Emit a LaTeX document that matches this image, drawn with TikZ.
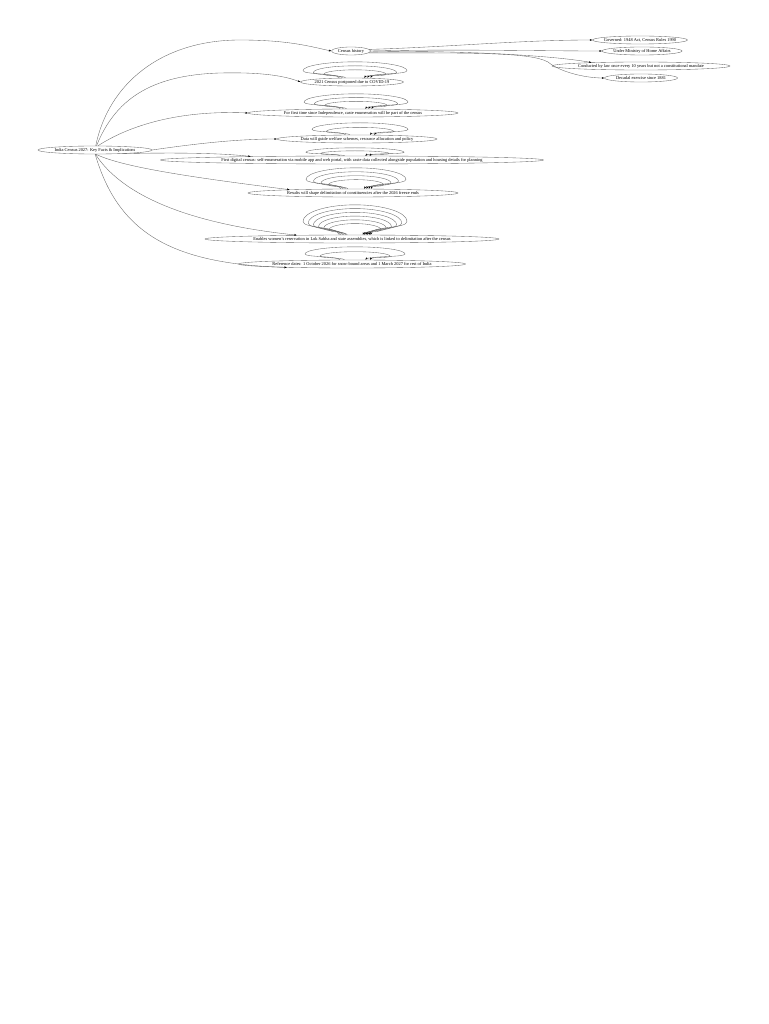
\documentclass[tikz,border=0pt]{standalone}
\usepackage{fontspec}
\setmainfont{Liberation Serif}
\usetikzlibrary{shapes.geometric,arrows.meta,calc}
\newcommand\drawloops[4]{%
 \foreach \k in {1,...,#2}{%
  \pgfmathsetmacro\lw{#3*(0.4+0.6*\k/#2)}%
  \pgfmathsetmacro\lh{#4*(0.25+0.75*\k/#2)}%
  \draw[edge] ($(#1.north)+(3-0.3*\lw,0)$)
    .. controls +(-0.05*\lw,-0.3*\lh) and +(0,0.25*\lh) .. ($(#1.north)+(3-\lw,-0.45*\lh)$)
    .. controls +(0,-0.3*\lh) and +(-0.55*\lw,0) .. ($(#1.north)+(3,-\lh)$)
    .. controls +(0.55*\lw,0) and +(0,-0.3*\lh) .. ($(#1.north)+(3+\lw,-0.45*\lh)$)
    .. controls +(0,0.25*\lh) and +(0.05*\lw,-0.3*\lh) .. ($(#1.north)+(3+0.3*\lw,0)$);
 }}
\begin{document}
\begin{tikzpicture}[x=1pt,y=-1pt,
  ell/.style={draw=black!60, line width=0.35pt, ellipse, inner sep=0pt, minimum height=8pt,
              font=\fontsize{4.4}{5}\selectfont},
  edge/.style={draw=black!60, line width=0.35pt, -{Stealth[length=2.6pt,width=1.9pt,black]}}]
\useasboundingbox[fill=white] (0,0) rectangle (768,1024);

\node[ell,minimum width=114pt] (root) at (95,150) {\makebox[0pt]{India Census 2027: Key Facts \& Implications}};
\node[ell,minimum width=39pt] (hist) at (351,51) {\makebox[0pt]{Census history}};
\node[ell,minimum width=95pt] (a) at (640,40) {\makebox[0pt]{Governed: 1948 Act, Census Rules 1990}};
\node[ell,minimum width=80pt] (b) at (642,51) {\makebox[0pt]{Under Ministry of Home Affairs}};
\node[ell,minimum width=178pt] (c) at (641,66) {\makebox[0pt]{Conducted by law once every 10 years but not a constitutional mandate}};
\node[ell,minimum width=73pt] (d) at (641,78) {\makebox[0pt]{Decadal exercise since 1881}};

\node[ell,minimum width=103pt] (n1) at (352,82) {\makebox[0pt]{2021 Census postponed due to COVID-19}};
\node[ell,minimum width=210pt] (n2) at (353,113) {\makebox[0pt]{For first time since Independence, caste enumeration will be part of the census}};
\node[ell,minimum width=160pt] (n3) at (357,139) {\makebox[0pt]{Data will guide welfare schemes, resource allocation and policy}};
\node[ell,minimum width=383pt] (n4) at (352,160) {\makebox[0pt]{First digital census: self-enumeration via mobile app and web portal, with caste data collected alongside population and housing details for planning}};
\node[ell,minimum width=210pt] (n5) at (353,193) {\makebox[0pt]{Results will shape delimitation of constituencies after the 2026 freeze ends}};
\node[ell,minimum width=294pt] (n6) at (352,239) {\makebox[0pt]{Enables women's reservation in Lok Sabha and state assemblies, which is linked to delimitation after the census}};
\node[ell,minimum width=227pt] (n7) at (352,264) {\makebox[0pt]{Reference dates: 1 October 2026 for snow-bound areas and 1 March 2027 for rest of India}};

% root edges
\draw[edge] (root.80) .. controls (108,85) and (160,40) .. (240,40) .. controls (290,40) and (312,47) .. (hist.west);
\draw[edge] (root.70) .. controls (115,100) and (150,75) .. (220,73) .. controls (262,72) and (285,76) .. (n1.west);
\draw[edge] (root.55) .. controls (130,125) and (180,110) .. (n2.west);
\draw[edge] (root.east) .. controls (200,143) and (240,139) .. (n3.west);
\draw[edge] (root.-8) .. controls (190,152) and (230,154) .. (n4.178);
\draw[edge] (root.-80) .. controls (120,166) and (180,176) .. (n5.177);
\draw[edge] (root.-85) .. controls (125,200) and (200,225) .. (n6.176);
\draw[edge] (root.-88) .. controls (118,232) and (170,264) .. (n7.183);

% history edges
\draw[edge] (hist.5) .. controls (450,47) and (520,40) .. (a.west);
\draw[edge] (hist.0) .. controls (450,49) and (540,51) .. (b.west);
\draw[edge] (hist.-3) .. controls (450,50) and (550,55) .. (c.176);
\draw[edge] (hist.-6) .. controls (470,53) and (530,52) .. (548,62) .. controls (560,72) and (585,78) .. (d.west);

% self loops
\drawloops{n1}{3}{52}{16}
\drawloops{n2}{3}{52}{15}
\drawloops{n3}{2}{48}{12}
\drawloops{n4}{2}{49}{8}
\drawloops{n5}{4}{50}{21}
\drawloops{n6}{6}{52}{30}
\drawloops{n7}{2}{50}{13}
\end{tikzpicture}
\end{document}
